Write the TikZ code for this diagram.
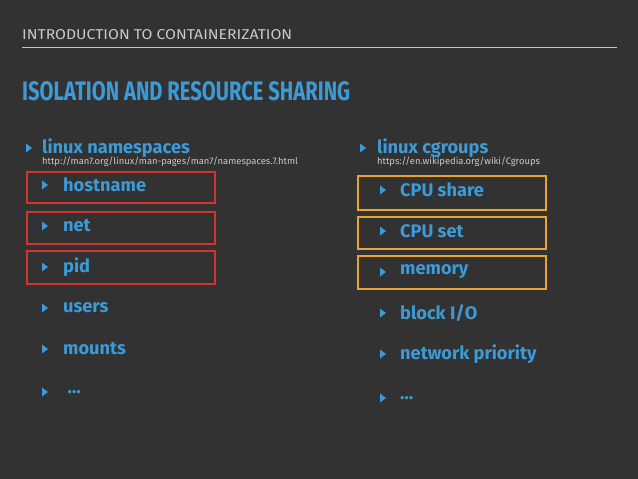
\documentclass[tikz,border=0pt]{standalone}
\usepackage{fontspec}
\setmainfont{Fira Sans}
\definecolor{bg}{HTML}{323232}
\definecolor{bl}{HTML}{3C9AD6}
\definecolor{gr}{HTML}{C8C8C8}
\definecolor{rd}{HTML}{D2342E}
\definecolor{og}{HTML}{EDA234}
\begin{document}
\begin{tikzpicture}[x=1pt,y=-1pt,
  item/.style={anchor=west,text=bl,font=\fontsize{18.2}{20}\selectfont\bfseries,inner sep=0},
  url/.style={anchor=west,text=gr,font=\fontsize{9.4}{10}\selectfont,inner sep=0},
  rbox/.style={draw=rd,line width=1.6pt},
  obox/.style={draw=og,line width=1.6pt}]
\fill[bg] (0,0) rectangle (638,479);
\useasboundingbox (0,0) rectangle (638,479);
\node[anchor=west,text=gr,inner sep=0] (hd) at (22,35) {\resizebox{270pt}{10pt}{INTRODUCTION TO CONTAINERIZATION}};
\coordinate (l1) at (22,47); \coordinate (l2) at (617,47);
\draw[gr,line width=0.8pt] (l1) -- (l2);
\node[anchor=west,text=bl,inner sep=0] (tt) at (22,91) {\resizebox{328pt}{19pt}{\bfseries ISOLATION AND RESOURCE SHARING}};
\newcommand\tri[2]{\fill[bl] (#1-3,#2-4.5) -- (#1+3,#2) -- (#1-3,#2+4.5) -- cycle;}
\tri{29}{148}
\node[item] (ns) at (42,148) {linux namespaces};
\node[url] (u1) at (42,162) {http://man7.org/linux/man-pages/man7/namespaces.7.html};
\foreach \t/\y/\n in {hostname/185/a,net/226/b,pid/267/c,users/308/d,mounts/349/e,{\ \ldots}/392/f}{
  \tri{45}{\y}
  \node[item] (\n) at (63,\y) {\t};
}
\draw[rbox] (27,172) rectangle (215,203);
\draw[rbox] (27,212) rectangle (215,244);
\draw[rbox] (27,251) rectangle (215,284);
\tri{363}{148}
\node[item] (cg) at (377,148) {linux cgroups};
\node[url] (u2) at (377,162) {https://en.wikipedia.org/wiki/Cgroups};
\foreach \t/\y/\n in {CPU share/190/g,CPU set/231/h,memory/272/i,{block I\slash O}/313/j,network priority/354/k,\ldots/398/m}{
  \tri{383}{\y}
  \node[item] (\n) at (400,\y) {\t};
}
\draw[obox] (358,176) rectangle (546,210);
\draw[obox] (358,217) rectangle (546,249);
\draw[obox] (358,256) rectangle (546,289);
\end{tikzpicture}
\end{document}
